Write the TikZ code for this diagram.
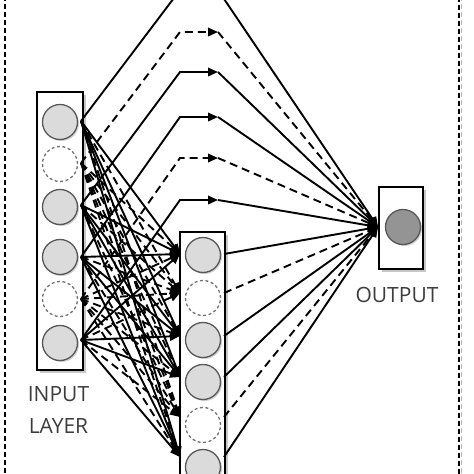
\documentclass[tikz,border=0pt]{standalone}
\usepackage{fontspec}
\setmainfont{Open Sans}
\usetikzlibrary{arrows.meta,shadows}
\begin{document}
\begin{tikzpicture}[x=1pt,y=-1pt,
  lay/.style={draw=black,line width=2.2pt,fill=white,inner sep=0pt,
    drop shadow={shadow xshift=3pt,shadow yshift=-3pt,opacity=0.22,fill=black}},
  neuron/.style={circle,draw=black!65,line width=1.3pt,fill=black!14,inner sep=0pt,minimum size=35pt,
    drop shadow={shadow xshift=1.5pt,shadow yshift=-1.5pt,opacity=0.18,fill=black}},
  dropped/.style={circle,draw=black!55,dash pattern=on 3pt off 2.5pt,line width=1.3pt,fill=white,inner sep=0pt,minimum size=35pt},
  outneuron/.style={neuron,fill=black!42},
  conn/.style={line width=1.9pt,-{Triangle[length=10pt,width=8.5pt]}},
  dconn/.style={conn,dash pattern=on 8pt off 5pt},
  lbl/.style={text=black!76,font=\fontsize{21}{21}\selectfont,inner sep=0pt},
  frame/.style={line width=1.4pt,dash pattern=on 5pt off 3pt}
]
\useasboundingbox (0,0) rectangle (474,474);
\clip (0,0) rectangle (474,474);
\fill[white] (0,0) rectangle (474,474);

% outer dashed frame (extends beyond the crop)
\draw[frame,black!30] (461.5,-20) -- (461.5,500);
\draw[frame] (5,-20) rectangle (459,500);

% layer boxes
\node[lay,minimum width=46pt,minimum height=278pt] (inbox) at (60,231) {};
\node[lay,minimum width=45pt,minimum height=260pt] (hidbox) at (202.5,362) {};
\node[lay,minimum width=44pt,minimum height=82pt] (outbox) at (401,228) {};

% input neurons
\node[neuron]  (i1) at (60,122) {};
\node[dropped] (i2) at (60,164) {};
\node[neuron]  (i3) at (60,207) {};
\node[neuron]  (i4) at (60,257) {};
\node[dropped] (i5) at (60,299) {};
\node[neuron]  (i6) at (60,343) {};

% hidden neurons
\node[neuron]  (h1) at (203,255) {};
\node[dropped] (h2) at (203,298) {};
\node[neuron]  (h3) at (203,340) {};
\node[neuron]  (h4) at (203,382) {};
\node[dropped] (h5) at (203,425) {};
\node[neuron]  (h6) at (203,467) {};

% output neuron
\node[outneuron] (o1) at (403,227) {};

% connection points
\coordinate (ia1) at (81,121);
\coordinate (ia2) at (81,163);
\coordinate (ia3) at (81,205);
\coordinate (ia4) at (81,257);
\coordinate (ia5) at (81,299);
\coordinate (ia6) at (81,340);
\foreach \k/\y in {1/254,2/293,3/336,4/377,5/417,6/457}{
  \coordinate (hi\k) at (180,\y);
  \coordinate (ho\k) at (224,\y);
}
\foreach \k/\y in {1/-10,2/32,3/72,4/117,5/158,6/200}{
  \coordinate (b\k) at (180,\y);
  \coordinate (t\k) at (218,\y);
}
\coordinate (oa) at (378,227);

% input -> hidden (full)
\foreach \i/\di in {1/0,2/1,3/0,4/0,5/1,6/0}{
  \foreach \h/\dh in {1/0,2/1,3/0,4/0,5/1,6/0}{
    \pgfmathtruncatemacro\dd{\di+\dh}
    \ifnum\dd>0
      \draw[dconn] (ia\i) -- (hi\h);
    \else
      \draw[conn] (ia\i) -- (hi\h);
    \fi
  }
}

% input -> upper bent paths -> output
\foreach \i/\di in {1/0,2/1,3/0,4/0,5/1,6/0}{
  \ifnum\di>0
    \draw[dconn] (ia\i) -- (b\i) -- (t\i);
    \draw[dconn] (t\i) -- (oa);
  \else
    \draw[conn] (ia\i) -- (b\i) -- (t\i);
    \draw[conn] (t\i) -- (oa);
  \fi
}

% hidden -> output
\foreach \h/\dh in {1/0,2/1,3/0,4/0,5/1,6/0}{
  \ifnum\dh>0
    \draw[dconn] (ho\h) -- (oa);
  \else
    \draw[conn] (ho\h) -- (oa);
  \fi
}

% labels
\node[lbl] (lin1) at (58.5,394.5) {INPUT};
\node[lbl] (lin2) at (58.5,425.5) {LAYER};
\node[lbl] (lout) at (397,294.5) {OUTPUT};
\end{tikzpicture}
\end{document}
